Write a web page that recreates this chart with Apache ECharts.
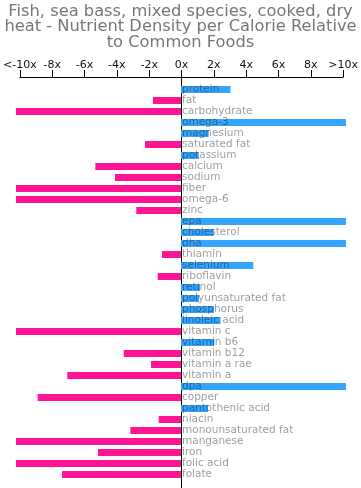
<!DOCTYPE html>
<html>
<head>
<meta charset="utf-8">
<script src="https://cdn.jsdelivr.net/npm/echarts@6/dist/echarts.min.js"></script>
<style>html,body{margin:0;padding:0;background:#fff}#c{width:361px;height:488px}</style>
</head>
<body>
<div id="c"></div>
<script>
var titleText = "Fish, sea bass, mixed species, cooked, dry\nheat - Nutrient Density per Calorie Relative\nto Common Foods";
var nutrients = ["protein","fat","carbohydrate","omega-3","magnesium","saturated fat","potassium","calcium","sodium","fiber","omega-6","zinc","epa","cholesterol","dha","thiamin","selenium","riboflavin","retinol","polyunsaturated fat","phosphorus","linoleic acid","vitamin c","vitamin b6","vitamin b12","vitamin a rae","vitamin a","dpa","copper","pantothenic acid","niacin","monounsaturated fat","manganese","iron","folic acid","folate"];
var density = [3.0,-1.7,-10,10,1.68,-2.18,1.07,-5.19,-4.0,-10,-10,-2.71,10,1.98,10,-1.15,4.38,-1.41,1.15,1.09,2.0,2.4,-10,2.02,-3.47,-1.82,-6.89,10,-8.69,1.64,-1.35,-3.07,-10,-5.03,-10,-7.21];
var tickValues = [-10,-8,-6,-4,-2,0,2,4,6,8,10];
var tickLabels = ["<-10x","-8x","-6x","-4x","-2x","0x","2x","4x","6x","8x",">10x"];
var posColor = "#36a5fd", negColor = "#ff1493";

var chart = echarts.init(document.getElementById('c'), null, {renderer:'canvas'});
chart.setOption({
  animation:false,
  backgroundColor:'#fff',
  title:{text:titleText,left:'center',top:-1,textStyle:{fontFamily:'DejaVu Sans',fontSize:16.3,fontWeight:'normal',color:'#777',lineHeight:15.5}},
  grid:[
    {left:16,right:15,top:84,height:396},
    {left:16,right:15,top:77,bottom:0}
  ],
  xAxis:[
    {gridIndex:0,type:'value',min:-10,max:10,show:false},
    {gridIndex:1,type:'value',min:-10,max:10,interval:2,position:'top',
     axisLine:{show:true,onZero:false,lineStyle:{color:'#000',width:1}},
     axisTick:{show:true,length:7,lineStyle:{color:'#000'}},
     splitLine:{show:false},
     axisLabel:{margin:6,fontFamily:'DejaVu Sans',fontSize:11,color:'#111',
       formatter:function(v){var i=tickValues.indexOf(v);return i>=0?tickLabels[i]:'';}}}
  ],
  yAxis:[
    {gridIndex:0,type:'category',data:nutrients,inverse:true,show:false},
    {gridIndex:1,type:'value',min:0,max:1,
     axisLine:{show:true,onZero:true,lineStyle:{color:'#000',width:1}},
     axisTick:{show:false},axisLabel:{show:false},splitLine:{show:false}}
  ],
  series:[{
    type:'bar',xAxisIndex:0,yAxisIndex:0,barWidth:7,
    data:density.map(function(v){return {value:v,itemStyle:{color:v>=0?posColor:negColor}};}),
    z:2
  },{
    type:'scatter',xAxisIndex:0,yAxisIndex:0,symbolSize:0,silent:true,
    data:nutrients.map(function(n){return [0,n];}),
    label:{show:true,position:'right',distance:1,fontFamily:'DejaVu Sans',fontSize:10.5,color:'rgba(0,0,0,0.5)',
      formatter:function(p){return p.value[1];}},
    z:5
  }]
});
</script>
</body>
</html>
